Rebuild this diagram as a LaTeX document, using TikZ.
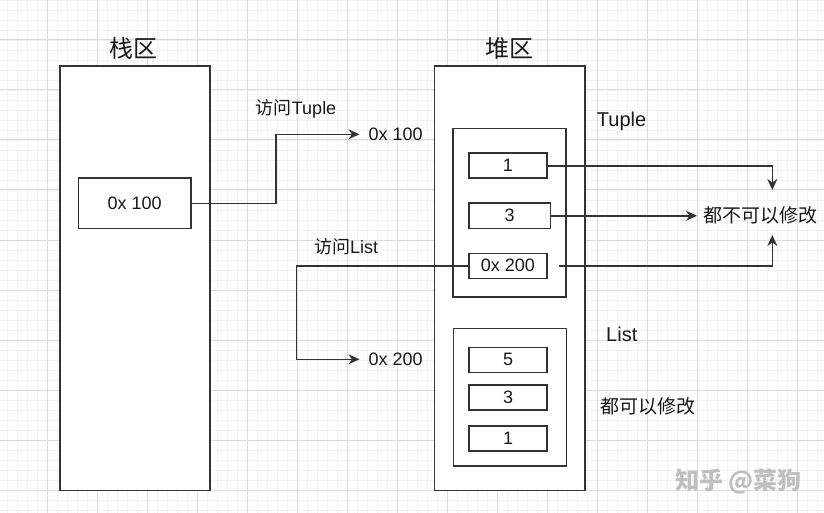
\documentclass[tikz,border=0pt]{standalone}
\usepackage{fontspec}
\setmainfont{Liberation Sans}
\newfontfamily\cjk{Noto Sans CJK SC}
\usetikzlibrary{arrows.meta}
\definecolor{gridmin}{HTML}{F2F2F2}
\definecolor{gridmaj}{HTML}{DCDCDC}
\definecolor{edge}{HTML}{333333}

\begin{document}
\begin{tikzpicture}[x=1pt, y=-1pt, every node/.style={font=\fontsize{18}{20}\selectfont, text=black!90}, >={Stealth[length=11pt, width=10pt, inset=3.5pt]},
	area/.style={draw=edge, line width=1.6pt, fill=white, minimum width=150pt, minimum height=424pt, inner sep=0pt},
	group/.style={draw=edge, line width=1.6pt, fill=white, minimum width=113pt, inner sep=0pt},
	cell/.style={draw=edge, line width=1.6pt, fill=white, minimum width=78pt, minimum height=25pt, inner sep=0pt},
	label/.style={anchor=west, inner sep=0pt},
	addr/.style={anchor=west, inner xsep=9pt, inner ysep=0pt},
	title/.style={font=\fontsize{24}{26}\selectfont\cjk},
	link/.style={draw=edge, line width=1.5pt}]
	\useasboundingbox (0,0) rectangle (824,513);
	\fill[white] (0,0) rectangle (824,513);
	% grid
	\foreach \x in {7,17,...,817} \draw[gridmin, line width=0.8pt] (\x,0) -- (\x,513);
	\foreach \y in {0,10,...,510} \draw[gridmin, line width=0.8pt] (0,\y) -- (824,\y);
	\foreach \x in {47,97,...,797} \draw[gridmaj, line width=1pt] (\x,0) -- (\x,513);
	\foreach \y in {40,90,...,490} \draw[gridmaj, line width=1pt] (0,\y) -- (824,\y);

	\node[title] (stacktitle) at (133.5,48.3) {栈区};
	\node[title] (heaptitle) at (509,48.3) {堆区};
	\node[area] (stack) at (135,278.3) {};
	\node[area, minimum width=150.4pt] (heap) at (509.5,278.3) {};
	\node[cell, minimum width=112.7pt, minimum height=50pt] (s100) at (134.7,203.3) {0x 100};

	\node[group, minimum height=168.7pt] (tuple) at (509.7,212.7) {};
	\node[cell] (c1) at (507.9,165.8) {1};
	\node[cell, minimum width=81.6pt] (c3) at (509.5,215.8) {3};
	\node[cell] (c200) at (507.9,265.8) {0x 200};

	\node[group, minimum height=137.4pt] (list) at (509.8,397) {};
	\node[cell] (l5) at (508.2,359.8) {5};
	\node[cell] (l3) at (508.2,397.2) {3};
	\node[cell] (l1) at (508.2,438.4) {1};

	\node[label, font=\fontsize{20}{22}\selectfont] (tuplename) at (596.7,121.7) {Tuple};
	\node[label, font=\fontsize{20}{22}\selectfont] (listname) at (606,334) {List};
	\node[label, font=\fontsize{19}{21}\selectfont] (canmod) at (600,406) {\cjk 都可以修改};
	\node[anchor=west, inner xsep=6pt, inner ysep=0pt, font=\fontsize{19}{21}\selectfont] (nomod) at (697,215.8) {\cjk 都不可以修改};
	\node[label] (visitT) at (255.7,109.3) {{\cjk 访问}Tuple};
	\node[label] (visitL) at (314,246.7) {{\cjk 访问}List};
	\node[addr] (t100) at (359.5,134.3) {0x 100};
	\node[addr] (t200) at (359.5,359.3) {0x 200};
	\node[label, font=\fontsize{24}{26}\selectfont\bfseries, text=black!25] (mark) at (675,481.7) {\cjk 知乎 @菜狗};

	\coordinate (nmtop) at (772.3,190);
	\coordinate (nmbot) at (772.3,235);
	\draw[link, ->] (s100.east) -- ++(84.3,0) |- (t100.west);
	\draw[link, ->] (c200.west) -- ++(-171.4,0) |- (t200.west);
	\draw[link, ->] (c1.east) -| (nmtop);
	\draw[link, ->] (c3.east) -- (nomod.west);
	\draw[link, ->] ([xshift=11pt]c200.east) -| (nmbot);
\end{tikzpicture}
\end{document}
